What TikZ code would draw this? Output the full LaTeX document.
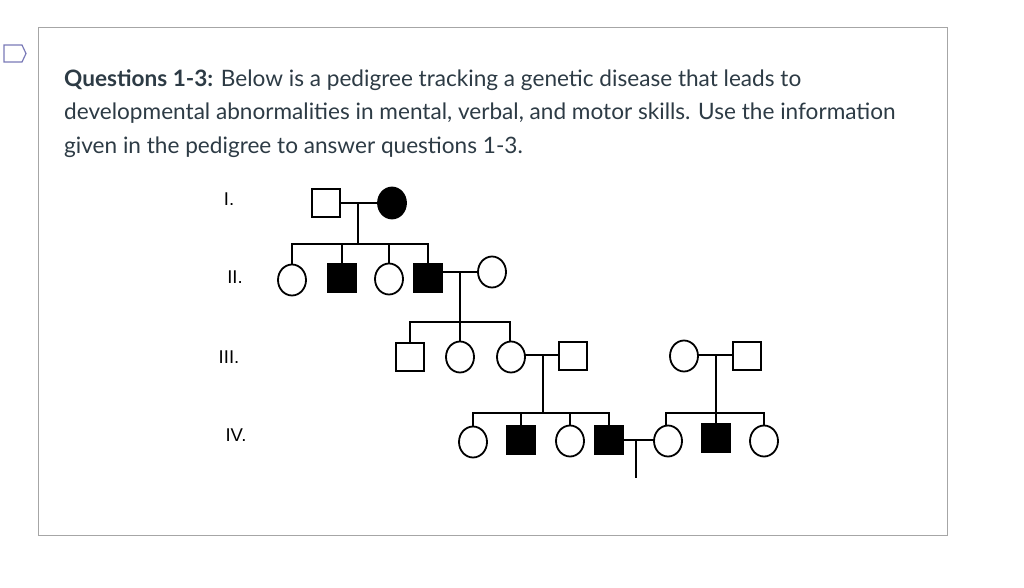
\documentclass[tikz,border=0pt]{standalone}
\usepackage{fontspec}
\usetikzlibrary{shapes.geometric}
\setmainfont{Lato}
\newfontfamily\arialf{Liberation Sans}
\definecolor{txt}{HTML}{2D3B45}
\begin{document}
\begin{tikzpicture}[x=1pt,y=-1pt,
  tl/.style={anchor=base west,inner sep=0,text=txt,font=\fontsize{22.6}{27}\selectfont},
  gl/.style={font=\arialf\fontsize{18.5}{22}\selectfont,inner sep=0},
  ml/.style={draw,fill=white,minimum size=28pt,inner sep=0,line width=1.8pt},
  fl/.style={ml,fill=black},
  fe/.style={draw,ellipse,fill=white,minimum width=28pt,minimum height=31pt,inner sep=0,line width=1.8pt},
  ff/.style={fe,fill=black},
  ln/.style={line width=1.8pt}]
\useasboundingbox (0,0) rectangle (1024,587);
\fill[white] (0,0) rectangle (1024,587);
\draw[gray!70,line width=0.8pt] (38.5,27.5) rectangle (947.5,535.5);
\draw[color=blue!30!gray!80,line width=1.2pt] (4,45) -- (22,45) -- (26,53.5) -- (22,62) -- (4,62) -- cycle;
\node[tl] (t1) at (64,86) {\textbf{Questions 1-3:} Below is a pedigree tracking a genetic disease that leads to};
\node[tl] (t2) at (64,119.5) {developmental abnormalities in mental, verbal, and motor skills. Use the information};
\node[tl] (t3) at (64,153) {given in the pedigree to answer questions 1-3.};
\node[gl] (g1) at (229,199) {I.};
\node[gl] (g2) at (235,277) {II.};
\node[gl] (g3) at (229,357) {III.};
\node[gl] (g4) at (236,435) {IV.};
\coordinate (s1) at (358,244);
\coordinate (s2) at (460,322);
\coordinate (s3) at (543,413);
\coordinate (s4) at (716,413);
\coordinate (e4) at (636,478);
% lines
\draw[ln] (326,203) -- (392,203);
\draw[ln] (358,203) -- (s1);
\draw[ln] (292,278) |- (s1) -| (428,278);
\draw[ln] (342,278) -- (342,244);
\draw[ln] (389,278) -- (389,244);
\draw[ln] (428,272) -- (492,272);
\draw[ln] (460,272) -- (s2);
\draw[ln] (410,355) |- (s2) -| (510,355);
\draw[ln] (460,355) -- (s2);
\draw[ln] (511,355) -- (573,355);
\draw[ln] (543,355) -- (s3);
\draw[ln] (684,355) -- (745,355);
\draw[ln] (716,355) -- (s4);
\draw[ln] (473,440) |- (s3) -| (609,440);
\draw[ln] (521,440) -- (521,413);
\draw[ln] (570,440) -- (570,413);
\draw[ln] (666,440) |- (s4) -| (764,440);
\draw[ln] (716,440) -- (s4);
\draw[ln] (609,440) -- (666,440);
\draw[ln] (636,440) -- (e4);
% symbols
\node[ml] (a1) at (326,203) {};
\node[ff] (a2) at (392,203) {};
\node[fe] (b1) at (292,280) {};
\node[fl] (b2) at (342,278) {};
\node[fe] (b3) at (389,279) {};
\node[fl] (b4) at (428,278) {};
\node[fe] (b5) at (492,272) {};
\node[ml] (c1) at (410,357) {};
\node[fe] (c2) at (460,357) {};
\node[fe] (c3) at (511,357) {};
\node[ml] (c4) at (573,356) {};
\node[fe] (c5) at (684,356) {};
\node[ml] (c6) at (747,356) {};
\node[fe] (d1) at (473,442) {};
\node[fl] (d2) at (521,440) {};
\node[fe] (d3) at (570,441) {};
\node[fl] (d4) at (609,440) {};
\node[fe] (d5) at (668,441) {};
\node[fl] (d6) at (716,438) {};
\node[fe] (d7) at (764,441) {};
\end{tikzpicture}
\end{document}
